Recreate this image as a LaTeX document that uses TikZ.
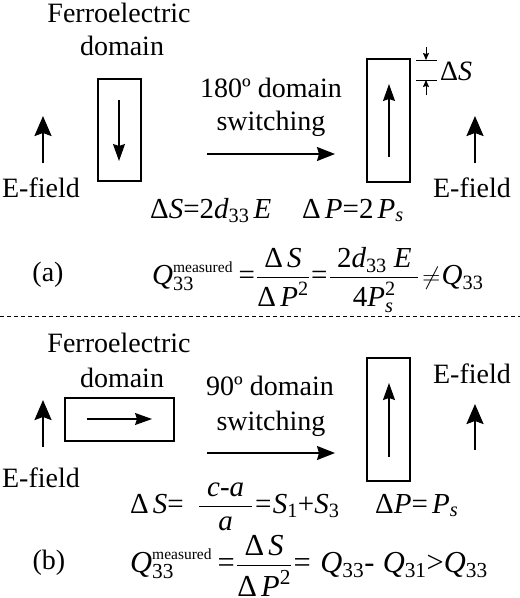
\documentclass[tikz,border=0pt]{standalone}
\usepackage{amsmath}
\usepackage{fontspec}
\setmainfont{Liberation Serif}
\usetikzlibrary{arrows.meta}
\newcommand\ti[1]{\text{\itshape #1}}
\newcommand\tr[1]{\text{#1}}
\newcommand\teq{\mkern1mu\text{=}\mkern1mu}
\newcommand\fr[3]{\genfrac{}{}{1.3pt}{0}{\mkern#1mu#2\mkern#1mu}{#3}}
\newcommand\meas{\text{\fontsize{15.5}{15.5}\selectfont measured}}
\tikzset{
  txt/.style={font=\fontsize{28}{30}\selectfont, inner sep=0pt, anchor=base},
  eq/.style={font=\fontsize{29}{31}\selectfont, inner sep=0pt, anchor=base west},
  domainbox/.style={draw, line width=1.8pt, inner sep=0pt},
  efield/.style={line width=2.2pt, -{Stealth[length=20pt,width=17pt,inset=3pt]}},
  pol/.style={line width=1.4pt, -{Stealth[length=17pt,width=12pt,inset=2pt]}},
  switcharrow/.style={line width=1.5pt, -{Stealth[length=18pt,width=14pt,inset=2pt]}},
  dimline/.style={line width=1pt},
  dimarr/.style={line width=1pt, -{Stealth[length=7pt,width=6pt,inset=1pt]}},
}
\begin{document}
\begin{tikzpicture}[x=1pt,y=-1pt]
\fill[white] (0,0) rectangle (520,598);
\useasboundingbox (0,0) rectangle (520,598);

% ---------- (a) ----------
\node[txt] (fa) at (119,22) {Ferroelectric};
\node[txt] (da) at (122,55) {domain};
\node[domainbox, minimum width=43pt, minimum height=102pt] (boxa) at (119.5,130) {};
\coordinate (pa1) at (119,100); \coordinate (pa2) at (119,161);
\draw[pol] (pa1) -- (pa2);

\coordinate (ea1) at (43,163); \coordinate (ea2) at (43,116);
\draw[efield] (ea1) -- (ea2);
\node[txt] (efa1) at (41,197) {E-field};

\node[txt] (sa1) at (271,97) {180º domain};
\node[txt] (sa2) at (271,130) {switching};
\coordinate (swa1) at (207,154); \coordinate (swa2) at (335,154);
\draw[switcharrow] (swa1) -- (swa2);

\node[domainbox, minimum width=43pt, minimum height=123pt] (boxa2) at (388.5,120.5) {};
\coordinate (pb1) at (389,157); \coordinate (pb2) at (389,84);
\draw[pol] (pb1) -- (pb2);

\coordinate (d1a) at (416,60); \coordinate (d1b) at (437,60);
\coordinate (d2a) at (416,80); \coordinate (d2b) at (437,80);
\draw[dimline] (d1a) -- (d1b);
\draw[dimline] (d2a) -- (d2b);
\coordinate (dt1) at (426,47); \coordinate (dt2) at (426,60);
\coordinate (db1) at (426,95); \coordinate (db2) at (426,80);
\draw[dimarr] (dt1) -- (dt2);
\draw[dimarr] (db1) -- (db2);
\node[eq, font=\fontsize{28}{30}\selectfont] (dsl) at (440,80) {Δ\textit{S}};

\coordinate (ea3) at (475,163); \coordinate (ea4) at (475,116);
\draw[efield] (ea3) -- (ea4);
\node[txt] (efa2) at (472,197) {E-field};

\node[eq] (eqa1) at (150,218) {$\tr{Δ}\ti{S}\tr{=}\tr{2}\ti{d}_{\tr{33}}\,\ti{E}$};
\node[eq] (eqa2) at (302,218) {$\tr{Δ}\,\ti{P}\tr{=}\tr{2}\,\ti{P}_{\ti{s}}$};

\node[txt] (la) at (48,281) {(a)};
\node[eq] (eqa3) at (152,284) {$\ti{Q}^{\meas}_{\tr{33}}\mkern3mu\teq\fr{3}{\tr{Δ}\,\ti{S}}{\tr{Δ}\,\ti{P}^{\tr{2}}}\teq\fr{5}{\tr{2}\ti{d}_{\tr{33}}\mkern5mu\ti{E}}{\tr{4}\ti{P}^{\tr{2}}_{\ti{s}}}\mkern2mu{\neq}\mkern1mu\ti{Q}_{\tr{33}}$};

% ---------- separator ----------
\coordinate (sep1) at (0,316); \coordinate (sep2) at (520,316);
\draw[line width=1pt, dash pattern=on 4pt off 3pt] (sep1) -- (sep2);

% ---------- (b) ----------
\node[txt] (fb) at (119,352) {Ferroelectric};
\node[txt] (db) at (122,387) {domain};
\node[domainbox, minimum width=109pt, minimum height=43pt] (boxb) at (119.5,419.5) {};
\coordinate (pc1) at (87,419); \coordinate (pc2) at (152,419);
\draw[pol] (pc1) -- (pc2);

\coordinate (eb1) at (43,447); \coordinate (eb2) at (43,400);
\draw[efield] (eb1) -- (eb2);
\node[txt] (efb1) at (41,487) {E-field};

\node[txt] (sb1) at (270,395) {90º domain};
\node[txt] (sb2) at (271,430) {switching};
\coordinate (swb1) at (207,453); \coordinate (swb2) at (335,453);
\draw[switcharrow] (swb1) -- (swb2);

\node[domainbox, minimum width=43pt, minimum height=123pt] (boxb2) at (388.5,419.5) {};
\coordinate (pd1) at (389,457); \coordinate (pd2) at (389,383);
\draw[pol] (pd1) -- (pd2);

\node[txt] (efb2) at (472,383) {E-field};
\coordinate (eb3) at (475,450); \coordinate (eb4) at (475,404);
\draw[efield] (eb3) -- (eb4);

\node[eq] (eqb1) at (130,513) {$\tr{Δ}\,\ti{S}\tr{=}\mkern10mu\fr{6}{\ti{c}\tr{-}\ti{a}}{\ti{a}}\teq\ti{S}_{\tr{1}}\tr{+}\ti{S}_{\tr{3}}$};
\node[eq] (eqb2) at (375,513) {$\tr{Δ}\ti{P}\tr{=}\,\ti{P}_{\ti{s}}$};

\node[txt] (lb) at (49,569) {(b)};
\node[eq, font=\fontsize{30.5}{32}\selectfont] (eqb3) at (130,572) {$\ti{Q}^{\meas}_{\tr{33}}\mkern3mu\teq\fr{4}{\tr{Δ}\,\ti{S}}{\tr{Δ}\,\ti{P}^{\tr{2}}}\teq\mkern6mu\ti{Q}_{\tr{33}}\tr{-}\mkern6mu\ti{Q}_{\tr{31}}\tr{>}\ti{Q}_{\tr{33}}$};
\end{tikzpicture}
\end{document}
